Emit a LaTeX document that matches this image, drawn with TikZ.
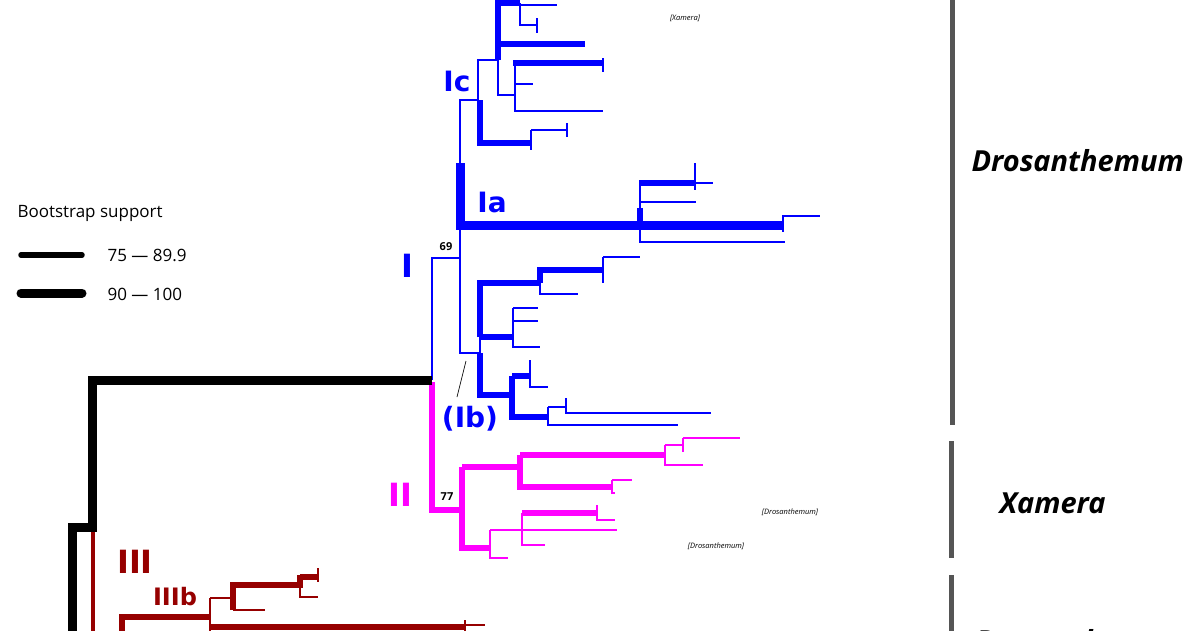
\documentclass[tikz,border=0pt]{standalone}
\usepackage{fontspec}
\setmainfont{Open Sans}
\newfontfamily\lab{DejaVu Sans}
\definecolor{cI}{RGB}{0,0,255}
\definecolor{cII}{RGB}{255,0,255}
\definecolor{cIII}{RGB}{150,0,0}
\definecolor{bar}{RGB}{85,85,85}
\begin{document}
\begin{tikzpicture}[x=1pt,y=-1pt,
  tn/.style={line width=2.2pt},
  tk/.style={line width=6.5pt},
  vt/.style={line width=9pt},
  clab/.style={font=\lab\bfseries\fontsize{28}{28}\selectfont},
  tiny/.style={font=\itshape\fontsize{7.5}{7.5}\selectfont},
  gen/.style={font=\bfseries\itshape\fontsize{29}{29}\selectfont}]
\useasboundingbox (0,0) rectangle (1200,630);
\clip (0,0) rectangle (1200,630);
% ---- clade I (blue)
\begin{scope}[cI]
\draw[tn] (460,258) -- (460,100) -- (478,100) -- (478,60) -- (498,60);
\draw[tk] (480,100) -- (480,143) -- (531,143);
\draw[tn] (531,130) -- (531,150); \draw[tn] (531,130) -- (567,130); \draw[tn] (567,123) -- (567,137);
\draw[tk] (498,60) -- (498,3) -- (520,3);
\draw[tn] (520,3) -- (520,25) -- (537,25); \draw[tn] (537,18) -- (537,33); \draw[tn] (520,5) -- (557,5);
\draw[tk] (498,44) -- (585,44);
\draw[tn] (498,57) -- (498,95) -- (515,95);
\draw[tn] (515,63) -- (515,111) -- (603,111); \draw[tn] (515,84) -- (533,84);
\draw[tk] (513,63) -- (603,63); \draw[tn] (603,58) -- (603,72);
\draw[vt] (460,163) -- (460,225) -- (640,225);
\draw[tk] (640,208) -- (640,225);
\draw[tn] (640,180) -- (640,242) -- (785,242);
\draw[tk] (640,183) -- (695,183); \draw[tn] (695,163) -- (695,190); \draw[tn] (695,183) -- (713,183);
\draw[tn] (640,202) -- (696,202);
\draw[vt] (640,225) -- (783,225); \draw[tn] (783,215) -- (783,232); \draw[tn] (783,216) -- (820,216);
\draw[tn] (432,380) -- (432,258) -- (460,258);
\draw[tn] (460,258) -- (460,353) -- (480,353);
\draw[tk] (480,337) -- (480,283) -- (540,283);
\draw[tk] (480,353) -- (480,395) -- (512,395);
\draw[tn] (480,337) -- (480,353);
\draw[tk] (540,283) -- (540,270) -- (603,270);
\draw[tn] (540,283) -- (540,294) -- (578,294);
\draw[tn] (603,257) -- (603,283); \draw[tn] (603,257) -- (640,257);
\draw[tk] (480,337) -- (513,337);
\draw[tn] (513,308) -- (513,347) -- (540,347); \draw[tn] (513,308) -- (538,308); \draw[tn] (513,321) -- (538,321);
\draw[tk] (512,376) -- (512,417) -- (548,417); \draw[tk] (512,376) -- (530,376);
\draw[tn] (530,360) -- (530,387) -- (548,387);
\draw[tn] (548,407) -- (548,425) -- (678,425); \draw[tn] (548,407) -- (566,407);
\draw[tn] (566,398) -- (566,413) -- (711,413);
\node[clab,font=\lab\bfseries\fontsize{32}{32}\selectfont] (lI) at (407,266) {I};
\node[clab] (lIc) at (457,81) {Ic};
\node[clab] (lIa) at (492,202) {Ia};
\node[clab] (lIb) at (470,419) {(Ib)};
\end{scope}
\draw[black,line width=0.7pt] (466,361) -- (457,397);
\node[font=\bfseries\fontsize{11}{11}\selectfont] (n69) at (446,247) {69};
\node[font=\bfseries\fontsize{11}{11}\selectfont] (n77) at (447,497) {77};
% ---- clade II (magenta)
\begin{scope}[cII]
\draw[tk] (432,382) -- (432,510) -- (462,510);
\draw[tk] (462,467) -- (462,548) -- (490,548);
\draw[tk] (462,467) -- (520,467);
\draw[tk] (520,455) -- (520,487) -- (612,487);
\draw[tk] (520,455) -- (665,455);
\draw[tn] (665,445) -- (665,465) -- (703,465); \draw[tn] (665,445) -- (683,445);
\draw[tn] (683,438) -- (683,452); \draw[tn] (683,438) -- (740,438);
\draw[tn] (612,480) -- (612,493) -- (615,493); \draw[tn] (612,480) -- (632,480);
\draw[tn] (490,530) -- (490,558) -- (508,558);
\draw[tn] (490,530) -- (522,530);
\draw[tn] (522,513) -- (522,545) -- (545,545); \draw[tn] (522,530) -- (617,530);
\draw[tk] (522,513) -- (597,513); \draw[tn] (597,505) -- (597,520) -- (615,520);
\node[clab,font=\lab\bfseries\fontsize{32}{32}\selectfont] (lII) at (400,495) {II};
\end{scope}
\node[tiny] (d1) at (790,512) {[\textit{Drosanthemum}]};
\node[tiny] (d2) at (716,546) {[\textit{Drosanthemum}]};
\node[tiny] (x1) at (685,18) {[\textit{Xamera}]};
% ---- backbone
\draw[vt,black,line join=miter] (432,380) -- (92,380) -- (92,527) -- (72,527) -- (72,640);
% ---- clade III
\begin{scope}[cIII]
\draw[line width=4.5pt] (93,532) -- (93,640);
\draw[tk] (122,640) -- (122,617) -- (210,617);
\draw[tn] (210,598) -- (210,640);
\draw[tn] (210,598) -- (233,598);
\draw[tk] (233,610) -- (233,585) -- (300,585);
\draw[tn] (233,610) -- (265,610);
\draw[tk] (300,575) -- (300,588); \draw[tk] (300,577) -- (318,577); \draw[tn] (318,568) -- (318,582);
\draw[tn] (300,588) -- (300,597) -- (318,597);
\draw[tk] (210,627) -- (465,627); \draw[tn] (465,620) -- (465,635); \draw[tn] (465,625) -- (485,625);
\node[clab,font=\lab\bfseries\fontsize{32}{32}\selectfont] (lIII) at (135,562) {III};
\node[clab,font=\lab\bfseries\fontsize{24}{24}\selectfont] (lIIIb) at (175,597) {IIIb};
\end{scope}
% ---- legend
\node[anchor=west,font=\fontsize{17}{17}\selectfont] (leg) at (14,213) {Bootstrap support};
\draw[line width=5.5pt,line cap=round] (21,255) -- (82,255);
\node[anchor=west,font=\fontsize{17}{17}\selectfont] (l1) at (104,255) {75 — 89.9};
\draw[line width=9pt,line cap=round] (21,293) -- (82,293);
\node[anchor=west,font=\fontsize{17}{17}\selectfont] (l2) at (104,294) {90 — 100};
% ---- genus bars
\draw[bar,line width=5pt] (952,0) -- (952,425);
\draw[bar,line width=5pt] (951,441) -- (951,558);
\draw[bar,line width=5pt] (951,575) -- (951,640);
\node[gen,anchor=west] (g1) at (968,161) {Drosanthemum};
\node[gen,anchor=west] (g2) at (996,503) {Xamera};
\node[gen,anchor=west] (g3) at (972,641) {Drosanthemum};
\end{tikzpicture}
\end{document}
